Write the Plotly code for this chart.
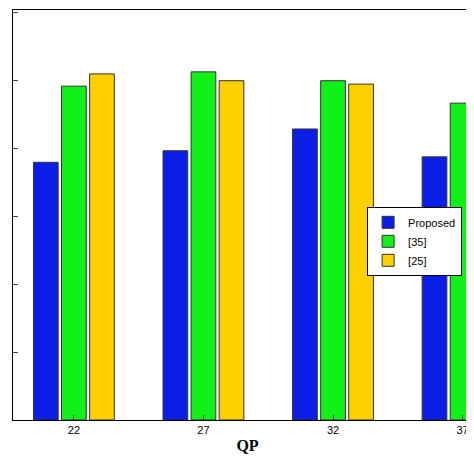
import plotly.graph_objects as go

qp = ["22", "27", "32", "37"]
proposed = [3.79, 3.96, 4.28, 3.87]
ref35 = [4.91, 5.12, 4.99, 4.66]
ref25 = [5.09, 4.99, 4.94, 4.80]

xs = list(range(len(qp)))
fig = go.Figure()
fig.add_trace(go.Bar(x=xs, y=proposed, name="Proposed", marker=dict(color="#0a1ee6", line=dict(color="#333", width=1))))
fig.add_trace(go.Bar(x=xs, y=ref35, name="[35]", marker=dict(color="#12f01a", line=dict(color="#333", width=1))))
fig.add_trace(go.Bar(x=xs, y=ref25, name="[25]", marker=dict(color="#ffd000", line=dict(color="#333", width=1))))

fig.update_layout(
    width=474, height=474, barmode="group", bargap=0.35, bargroupgap=0.12,
    margin=dict(l=5, r=0, t=2, b=62),
    plot_bgcolor="white", paper_bgcolor="white",
    legend=dict(x=0.755, y=0.52, xanchor="left", yanchor="top", bgcolor="white",
                bordercolor="black", borderwidth=1, font=dict(family="Arial", size=11, color="black"),
                tracegroupgap=0),
)
fig.update_xaxes(range=[-0.47, 3.15], tickvals=xs, ticktext=qp, showline=True, linecolor="black",
                 mirror=True, ticks="inside", showgrid=False,
                 tickfont=dict(family="Arial", size=11, color="black"),
                 title=dict(text="<b>QP</b>", font=dict(family="Liberation Serif", size=16, color="black"), standoff=4))
fig.update_yaxes(range=[0, 6.03], dtick=1, showline=True, linecolor="black", mirror=True,
                 ticks="inside", showticklabels=False, showgrid=False)
fig.write_html("out.html")
